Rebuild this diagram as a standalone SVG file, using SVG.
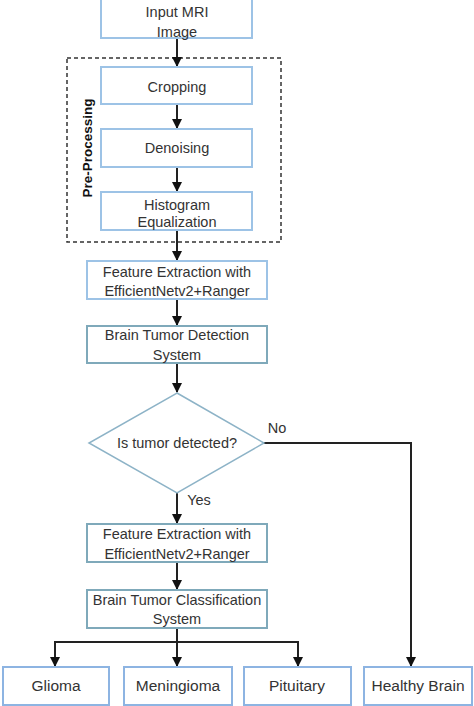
<svg xmlns="http://www.w3.org/2000/svg" width="474" height="706" viewBox="0 0 474 706">
<defs>
<style>
.box{fill:#fff;stroke:#9dc3e6;stroke-width:2}
.box2{fill:#fff;stroke:#7fa9ba;stroke-width:2}
.box3{fill:#fff;stroke:#8db4e2;stroke-width:2}
.t{font-family:"Liberation Sans",Arial,sans-serif;font-size:14.5px;fill:#333;text-anchor:middle}
.b{font-size:15.5px}
.c{stroke:#222;stroke-width:2;fill:none}
</style>
<marker id="ah" viewBox="0 0 10 10" refX="9" refY="5" markerWidth="5" markerHeight="5" orient="auto" markerUnits="strokeWidth">
<path d="M0,0 L10,5 L0,10 z" fill="#111"/>
</marker>
</defs>
<rect width="474" height="706" fill="#fff"/>
<g id="preprocessing">
<rect x="67" y="58" width="214" height="184" fill="none" stroke="#333" stroke-width="1.5" stroke-dasharray="4,3"/>
<text transform="translate(92,148) rotate(-90)" font-family="'Liberation Sans',Arial,sans-serif" font-size="13.5" font-weight="bold" fill="#111" text-anchor="middle">Pre-Processing</text>
</g>
<g id="connectors">
<path class="c" d="M177,38 V66" marker-end="url(#ah)"/>
<path class="c" d="M177,104 V128" marker-end="url(#ah)"/>
<path class="c" d="M177,167 V191" marker-end="url(#ah)"/>
<path class="c" d="M177,230 V260" marker-end="url(#ah)"/>
<path class="c" d="M177,299 V325" marker-end="url(#ah)"/>
<path class="c" d="M177,363 V392" marker-end="url(#ah)"/>
<path class="c" d="M177,493 V523" marker-end="url(#ah)"/>
<path class="c" d="M177,562 V589" marker-end="url(#ah)"/>
<path class="c" d="M177,628 V666" marker-end="url(#ah)"/>
<path class="c" d="M55,642 H298"/>
<path class="c" d="M55,641 V666" marker-end="url(#ah)"/>
<path class="c" d="M298,641 V666" marker-end="url(#ah)"/>
<path class="c" d="M264,443 H411 V666" stroke-width="1.5" marker-end="url(#ah)"/>
<text class="t" x="277" y="433">No</text>
<text class="t" x="199" y="505">Yes</text>
</g>
<g id="input">
<rect class="box" x="101" y="-2" width="151" height="40"/>
<text class="t" x="177" y="17">Input MRI</text>
<text class="t" x="177" y="37">Image</text>
</g>
<g id="cropping">
<rect class="box" x="101" y="67" width="151" height="37"/>
<text class="t" x="177" y="92">Cropping</text>
</g>
<g id="denoising">
<rect class="box" x="101" y="129" width="151" height="38"/>
<text class="t" x="177" y="153">Denoising</text>
</g>
<g id="histogram">
<rect class="box" x="101" y="192" width="151" height="38"/>
<text class="t" x="177" y="210">Histogram</text>
<text class="t" x="177" y="227">Equalization</text>
</g>
<g id="feature1">
<rect class="box" x="87" y="261" width="180" height="38"/>
<text class="t" x="177" y="277">Feature Extraction with</text>
<text class="t" x="177" y="296">EfficientNetv2+Ranger</text>
</g>
<g id="detection">
<rect class="box2" x="87" y="326" width="180" height="37"/>
<text class="t" x="177" y="340">Brain Tumor Detection</text>
<text class="t" x="177" y="360">System</text>
</g>
<g id="decision">
<polygon points="177,393 264,443 177,493 89,443" fill="#fff" stroke="#8db3c7" stroke-width="1.5"/>
<text class="t" x="177" y="448">Is tumor detected?</text>
</g>
<g id="feature2">
<rect class="box2" x="87" y="524" width="180" height="38"/>
<text class="t" x="177" y="539">Feature Extraction with</text>
<text class="t" x="177" y="559">EfficientNetv2+Ranger</text>
</g>
<g id="classification">
<rect class="box2" x="87" y="590" width="180" height="38"/>
<text class="t" x="177" y="605">Brain Tumor Classification</text>
<text class="t" x="177" y="624">System</text>
</g>
<g id="glioma">
<rect class="box3" x="3" y="667" width="106" height="38"/>
<text class="t b" x="56" y="691">Glioma</text>
</g>
<g id="meningioma">
<rect class="box3" x="124" y="667" width="108" height="38"/>
<text class="t b" x="178" y="691">Meningioma</text>
</g>
<g id="pituitary">
<rect class="box3" x="244" y="667" width="107" height="38"/>
<text class="t b" x="297" y="691">Pituitary</text>
</g>
<g id="healthy">
<rect class="box3" x="364" y="667" width="108" height="38"/>
<text class="t b" x="418" y="691">Healthy Brain</text>
</g>
</svg>
